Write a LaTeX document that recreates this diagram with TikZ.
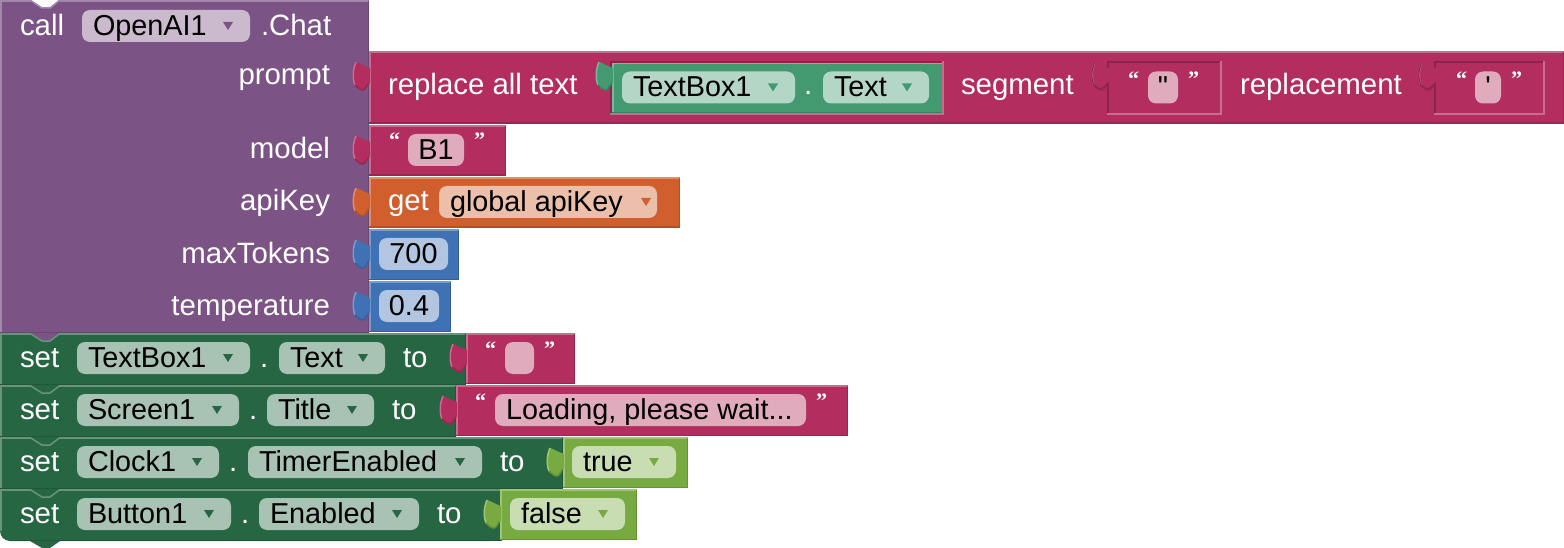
\documentclass[tikz,border=0pt]{standalone}
\usepackage{fontspec}
\setmainfont{Liberation Sans}
\newfontfamily\qfont{Liberation Serif}
\newfontfamily\plainf{Liberation Sans}
\definecolor{cpurple}{HTML}{7C5385}
\definecolor{ccrim}{HTML}{B32D5E}
\definecolor{corange}{HTML}{D05F2D}
\definecolor{cblue}{HTML}{3F71B5}
\definecolor{cdgreen}{HTML}{266643}
\definecolor{cmgreen}{HTML}{439970}
\definecolor{clgreen}{HTML}{77AB41}
\newcommand\blk[5]{%
  \fill[#1] (#2,#3) rectangle ({#2+#4},{#3+#5});
  \draw[#1!70!white,line width=2] (#2+1,{#3+#5}) -- (#2+1,#3+1) -- ({#2+#4},#3+1);
  \draw[#1!85!black,line width=1.5] ({#2+#4-.75},#3+1) -- ({#2+#4-.75},{#3+#5-.75}) -- (#2,{#3+#5-.75});
}
\newcommand\tabshape[3]{%
  \fill[#1] (#2+1,#3+17) .. controls (#2-5,#3+15) and (#2-9,#3+12) .. (#2-13,#3+11)
    .. controls (#2-17,#3+19) and (#2-17,#3+28) .. (#2-14,#3+34)
    .. controls (#2-12,#3+36) and (#2-9,#3+39) .. (#2-6,#3+39)
    .. controls (#2-4,#3+39) and (#2-2,#3+34) .. (#2+1,#3+31) -- cycle;
  \draw[#1!70!white,line width=1.5] (#2-13,#3+11) .. controls (#2-16.5,#3+19) and (#2-16.5,#3+28) .. (#2-14,#3+34);
  \draw[#1!85!black,line width=1.5] (#2-14,#3+34) .. controls (#2-12,#3+36) and (#2-9,#3+39) .. (#2-6,#3+39) .. controls (#2-4,#3+39) and (#2-2,#3+34) .. (#2,#3+32);
}
\newcommand\sock[4]{%
  \draw[ccrim!78!black,line width=2] (#1,{#2+#4}) -- (#1,#2) -- ({#1+#3},#2);
  \draw[ccrim!70!white,line width=2] ({#1+#3},#2-1) -- ({#1+#3},{#2+#4}) -- (#1-1,{#2+#4});
}
\newcommand\txt[4]{\node[wtext] (#1) at (#2,#3+10) {#4};}
\newcommand\lbl[4]{\node[wtext,anchor=base east] (#1) at (#2,#3+10) {#4};}
\newcommand\pill[6]{%
  \fill[#2!40!white,rounded corners=8] (#3,#5-16) rectangle (#4,#5+16);
  \node[btext] (#1) at (#3+11,#5+9.5) {#6};
}
\newcommand\cpill[6]{%
  \fill[#2!40!white,rounded corners=8] (#3,#5-16) rectangle (#4,#5+16);
  \node[btext,anchor=base] (#1) at ({(#3+#4)/2},#5+9.5) {#6};
}
\newcommand\arr[3]{\fill[#1] (#2-5,#3-4) -- (#2+5,#3-4) -- (#2,#3+4) -- cycle;}
\newcommand\qq[4]{%
  \node[qtext] (#1o) at (#2,#3+2) {“};
  \node[qtext] (#1c) at (#4,#3+2) {”};
}
\newcommand\vtab[3]{\fill[#1] (30,#2) -- (42,#2+8) -- (50,#2+8) -- (60,#2) -- cycle;
  \draw[#3,line width=1.5] (30,#2+.5) -- (42,#2+8) -- (50,#2+8) -- (60,#2+.5);}
\tikzset{
  every node/.style={inner sep=0pt,outer sep=0pt},
  wtext/.style={text=white,anchor=base west,font=\fontsize{29.4}{31}\selectfont},
  btext/.style={text=black,anchor=base west,font=\fontsize{28.8}{31}\selectfont},
  qtext/.style={text=white,anchor=base west,font=\qfont\bfseries\fontsize{22}{24}\selectfont},
}
\begin{document}
\begin{tikzpicture}[x=1pt,y=-1pt]
\useasboundingbox (0,0) rectangle (1564,548);
% call block
\blk{cpurple}{0}{0}{369}{333}
\fill[white] (30,0) -- (42,8) -- (50,8) -- (60,0) -- cycle;
\draw[cpurple!70!white,line width=1.5] (30,0) -- (42,8) -- (50,8) -- (60,0);
\txt{call}{20}{26}{call}
\pill{openai}{cpurple}{82}{250}{26}{OpenAI1}
\arr{cpurple}{228}{26}
\txt{chat}{261}{26}{.Chat}
\lbl{prompt}{330}{75}{prompt}
\lbl{model}{330}{149}{model}
\lbl{apikey}{330}{201}{apiKey}
\lbl{maxtok}{330}{253}{maxTokens}
\lbl{temp}{330}{305}{temperature}
% replace block
\blk{ccrim}{369}{51}{1195}{73}
\tabshape{ccrim}{369}{51}
\txt{replace}{388}{85}{replace all text}
\blk{cmgreen}{612}{62}{331}{52}
\sock{611}{62}{332}{52}
\tabshape{cmgreen}{612}{51}
\pill{tbone}{cmgreen}{622}{795}{87.5}{TextBox1}
\arr{cmgreen}{773}{87.5}
\txt{dota}{804}{85}{.}
\pill{tbtext}{cmgreen}{823}{929}{87.5}{Text}
\arr{cmgreen}{907}{87.5}
\txt{segment}{961}{85}{segment}
\sock{1108}{62}{113}{52}
\tabshape{ccrim}{1108}{51}
\draw[ccrim!78!black,line width=1] (1095,62) .. controls (1091,70) and (1091,79) .. (1094,85) .. controls (1098,90) and (1102,91) .. (1108,83);
\qq{sa}{1128}{85}{1188}
\cpill{sb}{ccrim}{1148}{1178}{87.5}{\plainf "}
\txt{replacement}{1240}{85}{replacement}
\sock{1435}{62}{109}{52}
\tabshape{ccrim}{1435}{51}
\draw[ccrim!78!black,line width=1] (1422,62) .. controls (1418,70) and (1418,79) .. (1421,85) .. controls (1425,90) and (1429,91) .. (1435,83);
\qq{ra}{1456}{85}{1511}
\cpill{rb}{ccrim}{1475}{1501}{87.5}{\plainf '}
% model
\blk{ccrim}{369}{125}{137}{51}
\tabshape{ccrim}{369}{125}
\qq{ma}{389}{146}{474}
\cpill{mb}{ccrim}{408}{464}{150}{B1}
% apiKey
\blk{corange}{369}{177}{311}{51}
\tabshape{corange}{369}{177}
\txt{get}{388}{201}{get}
\pill{glob}{corange}{439}{657}{202}{global apiKey}
\arr{corange}{646}{202}
% numbers
\blk{cblue}{369}{229}{90}{51}
\tabshape{cblue}{369}{229}
\cpill{n700}{cblue}{379}{448}{254}{700}
\blk{cblue}{369}{281}{82}{51}
\tabshape{cblue}{369}{281}
\cpill{n04}{cblue}{379}{439}{306}{0.4}
% set rows
\blk{cdgreen}{0}{333}{466}{52}
\blk{cdgreen}{0}{385}{456}{52}
\blk{cdgreen}{0}{437}{563}{52}
\fill[cdgreen,rounded corners=10] (0,489) -- (0,541) -- (500,541) -- (500,489) -- cycle;
\fill[cdgreen] (0,489) rectangle (500,500);
\fill[cdgreen] (480,489) rectangle (502,541);
\draw[cdgreen!70!white,line width=2] (1,531) -- (1,490) -- (500,490);
\draw[cdgreen!85!black,line width=1.5] (10,540.25) -- (500,540.25);
\fill[cdgreen] (30,541) -- (42,548) -- (50,548) -- (60,541) -- cycle;
\vtab{cpurple}{333}{cdgreen!70!white}
\vtab{cdgreen}{385}{cdgreen!70!white}
\vtab{cdgreen}{437}{cdgreen!70!white}
\vtab{cdgreen}{489}{cdgreen!70!white}
% row 1
\txt{seta}{20}{357}{set}
\pill{tba}{cdgreen}{77}{250}{358}{TextBox1}
\arr{cdgreen}{228}{358}
\txt{dotb}{260}{357}{.}
\pill{tbb}{cdgreen}{279}{385}{358}{Text}
\arr{cdgreen}{363}{358}
\txt{toa}{403}{357}{to}
\blk{ccrim}{466}{333}{109}{51}
\tabshape{ccrim}{466}{333}
\qq{ea}{485}{354}{544}
\cpill{eb}{ccrim}{505}{534}{358}{}
% row 2
\txt{setb}{20}{409}{set}
\pill{scr}{cdgreen}{77}{239}{410}{Screen1}
\arr{cdgreen}{217}{410}
\txt{dotc}{249}{409}{.}
\pill{title}{cdgreen}{267}{374}{410}{Title}
\arr{cdgreen}{352}{410}
\txt{tob}{392}{409}{to}
\blk{ccrim}{456}{385}{392}{51}
\tabshape{ccrim}{456}{385}
\qq{la}{475}{406}{816}
\pill{lb}{ccrim}{495}{806}{410}{Loading, please wait...}
% row 3
\txt{setc}{20}{461}{set}
\pill{clk}{cdgreen}{77}{219}{462}{Clock1}
\arr{cdgreen}{197}{462}
\txt{dotd}{229}{461}{.}
\pill{te}{cdgreen}{248}{482}{462}{TimerEnabled}
\arr{cdgreen}{460}{462}
\txt{toc}{500}{461}{to}
\blk{clgreen}{563}{437}{125}{51}
\tabshape{clgreen}{563}{437}
\pill{tr}{clgreen}{572}{676}{462}{true}
\arr{clgreen}{654}{462}
% row 4
\txt{setd}{20}{513}{set}
\pill{btn}{cdgreen}{77}{231}{514}{Button1}
\arr{cdgreen}{209}{514}
\txt{dote}{241}{513}{.}
\pill{en}{cdgreen}{259}{419}{514}{Enabled}
\arr{cdgreen}{397}{514}
\txt{tod}{437}{513}{to}
\blk{clgreen}{500}{489}{137}{51}
\tabshape{clgreen}{500}{489}
\pill{fa}{clgreen}{510}{625}{514}{false}
\arr{clgreen}{603}{514}
\end{tikzpicture}
\end{document}
